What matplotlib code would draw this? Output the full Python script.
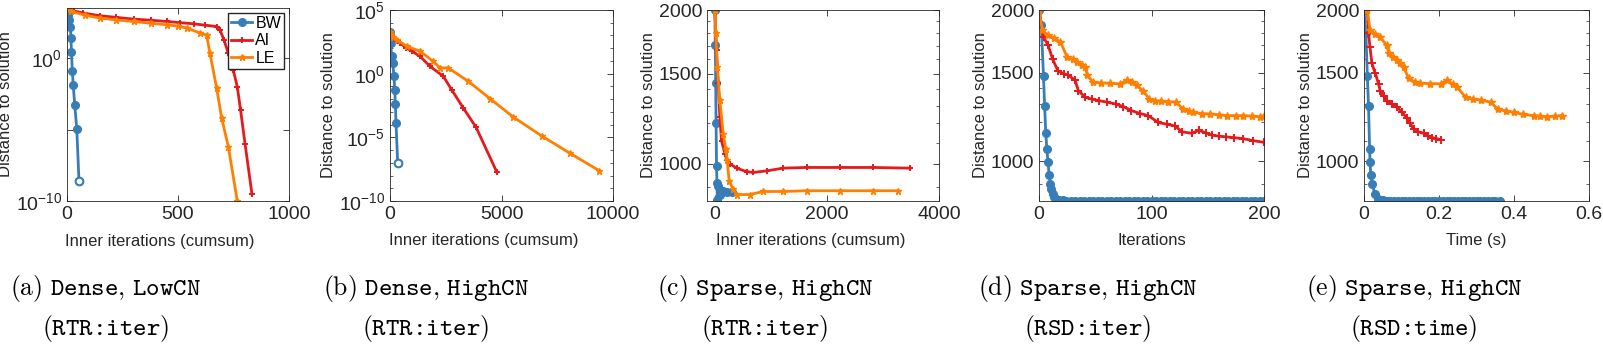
import numpy as np
import matplotlib
matplotlib.use('Agg')
import matplotlib.pyplot as plt
from matplotlib.ticker import FixedLocator, NullFormatter

plt.rcParams['font.family'] = ['Liberation Sans', 'DejaVu Sans']
plt.rcParams['mathtext.fontset'] = 'custom'
plt.rcParams['mathtext.rm'] = 'Liberation Sans'
plt.rcParams['mathtext.it'] = 'Liberation Sans:italic'
plt.rcParams['mathtext.bf'] = 'Liberation Sans:bold'

c_bw = '#377eb8'
c_ai = '#e41a1c'
c_le = '#ff7f00'
gray = '#262626'

# (a) Dense, LowCN  (RTR:iter)
a_bw_x = [0, 4, 10, 15, 18, 20, 24, 28, 35, 44, 54]
a_bw_y = [2700, 1070, 480, 160, 25, 2.5, 0.13, 0.0126, 5e-4, 1.1e-5, 2.5e-9]
a_ai_x = [0, 30, 73, 148, 220, 300, 380, 450, 510, 570, 620, 675, 689, 707, 727, 749, 767, 782, 802, 833]
a_ai_y = [2700, 2000, 1410, 910, 700, 530, 440, 360, 300, 247, 200, 160, 93, 18.6, 2.1, 0.14, 0.01, 2.2e-4, 1e-6, 3.2e-10]
a_le_x = [0, 20, 80, 148, 220, 300, 380, 450, 500, 541, 601, 629, 644, 674, 697, 727, 767]
a_le_y = [2700, 1820, 1000, 630, 470, 360, 270, 210, 170, 123, 55, 40, 2.1, 8e-3, 6e-5, 6e-7, 1e-10]

# (b) Dense, HighCN  (RTR:iter)
b_bw_x = [0, 5, 10, 20, 30, 75, 120, 180, 210, 240, 270, 345]
b_bw_y = [2000, 1200, 700, 400, 263, 23, 6.9, 0.62, 0.055, 4.4e-3, 1.3e-4, 9.3e-8]
b_ai_x = [0, 50, 150, 300, 448, 700, 1000, 1345, 1794, 2392, 2765, 3288, 3857, 4783]
b_ai_y = [2000, 1260, 710, 400, 263, 112, 56, 23, 3.8, 0.62, 0.055, 2.0e-3, 6.3e-5, 2.0e-8]
b_le_x = [0, 50, 150, 300, 748, 1345, 1943, 2242, 2616, 3513, 4484, 5530, 6801, 8072, 9387]
b_le_y = [2000, 1260, 790, 480, 141, 58, 9.3, 2.8, 2.8, 0.25, 0.011, 3.9e-4, 1.3e-5, 5.6e-7, 2.4e-8]

# (c) Sparse, HighCN  (RTR:iter)
c_bw_x = [0, 8, 15, 22, 30, 38, 45, 60, 90, 150, 220, 300]
c_bw_y = [2000, 1708, 1438, 1200, 988, 916, 849, 905, 870, 885, 880, 880]
c_ai_x = [0, 30, 60, 89, 119, 179, 220, 268, 387, 565, 685, 923, 1220, 1637, 2232, 2827, 3482]
c_ai_y = [2000, 1670, 1438, 1236, 1109, 1046, 1015, 1000, 980, 965, 961, 968, 980, 983, 983, 983, 980]
c_le_x = [0, 18, 42, 89, 149, 196, 220, 256, 327, 387, 625, 863, 1220, 1637, 2232, 2827, 3262]
c_le_y = [2000, 1801, 1549, 1333, 1145, 1066, 1015, 924, 891, 870, 870, 882, 882, 885, 885, 885, 885]

# (d) Sparse, HighCN  (RSD:iter)
d_bw_x = [0, 2, 4, 5, 6, 7, 8, 9, 10, 11, 12, 13, 15, 18, 21, 24, 28, 32, 36, 40, 44, 48, 52, 56, 60,
          64, 68, 72, 76, 80, 84, 88, 92, 96, 100, 104, 108, 112, 116, 120, 124, 128, 132, 136, 140,
          144, 148, 152, 156, 160, 164, 168, 172, 176, 180, 184, 188, 192, 196, 200]
d_bw_y = [2000, 1868, 1476, 1290, 1140, 1058, 996, 941, 903, 880, 862, 850, 842, 838, 836, 835, 834, 834,
          834, 834, 834, 834, 834, 834, 834, 834, 834, 834, 834, 834, 834, 834, 834, 834, 834, 834, 834,
          834, 834, 834, 834, 834, 834, 834, 834, 834, 834, 834, 834, 834, 834, 834, 834, 834, 834, 834,
          834, 834, 834, 834]
d_ai_x = [0, 4, 8, 12, 17, 22, 26, 32, 35, 41, 47, 53, 60, 68, 75, 82, 90, 97, 106, 114, 121, 127, 136, 142,
          148, 154, 160, 166, 173, 181, 190, 200]
d_ai_y = [2000, 1765, 1705, 1600, 1511, 1495, 1484, 1451, 1383, 1341, 1330, 1321, 1312, 1301, 1285, 1262,
          1245, 1233, 1195, 1185, 1176, 1145, 1137, 1153, 1140, 1127, 1122, 1119, 1115, 1110, 1100, 1091]
d_le_x = [0, 3, 8, 13, 19, 25, 30, 34, 38, 41, 43, 48, 55, 63, 72, 78, 83, 87, 92, 98, 103, 108, 115, 122,
          128, 133, 137, 145, 152, 160, 167, 175, 181, 189, 196, 200]
d_le_y = [2000, 1824, 1780, 1760, 1729, 1613, 1595, 1575, 1555, 1540, 1484, 1437, 1432, 1430, 1426, 1451,
          1440, 1416, 1383, 1332, 1321, 1318, 1315, 1311, 1271, 1262, 1251, 1245, 1242, 1238, 1233, 1233,
          1233, 1230, 1227, 1233]

# (e) Sparse, HighCN  (RSD:time)
e_bw_x = [0, 0.005, 0.009, 0.012, 0.015, 0.016, 0.018, 0.022, 0.029, 0.038, 0.045, 0.051, 0.06, 0.07,
          0.08, 0.09, 0.10, 0.11, 0.12, 0.13, 0.14, 0.15, 0.16, 0.17, 0.18, 0.19, 0.20, 0.21, 0.22, 0.23,
          0.24, 0.25, 0.26, 0.27, 0.28, 0.29, 0.30, 0.31, 0.32, 0.33, 0.34, 0.35, 0.363]
e_bw_y = [2000, 1797, 1476, 1290, 1058, 996, 941, 903, 862, 842, 838, 836, 835, 834, 834, 834, 834, 834,
          834, 834, 834, 834, 834, 834, 834, 834, 834, 834, 834, 834, 834, 834, 834, 834, 834, 834, 834,
          834, 834, 834, 834, 834, 834]
e_ai_x = [0.009, 0.012, 0.016, 0.021, 0.030, 0.039, 0.043, 0.052, 0.061, 0.075, 0.088, 0.100, 0.114,
          0.123, 0.132, 0.145, 0.159, 0.170, 0.182, 0.193, 0.204]
e_ai_y = [2000, 1797, 1688, 1566, 1497, 1426, 1383, 1350, 1321, 1300, 1282, 1255, 1222, 1190, 1160, 1145,
          1137, 1125, 1115, 1110, 1105]
e_le_x = [0.009, 0.016, 0.030, 0.043, 0.061, 0.066, 0.078, 0.088, 0.097, 0.106, 0.119, 0.135, 0.150,
          0.175, 0.204, 0.222, 0.236, 0.249, 0.271, 0.290, 0.311, 0.338, 0.356, 0.378, 0.400, 0.425, 0.453,
          0.470, 0.489, 0.510, 0.529]
e_le_y = [2000, 1824, 1790, 1765, 1702, 1640, 1610, 1589, 1570, 1540, 1462, 1440, 1430, 1428, 1426, 1451,
          1425, 1403, 1341, 1330, 1325, 1311, 1271, 1260, 1251, 1240, 1233, 1230, 1227, 1230, 1233]

xlabels = ['Inner iterations (cumsum)'] * 3 + ['Iterations', 'Time (s)']
captions = [
    (r'$\mathrm{(a)}\ $Dense$\mathrm{,}\ $LowCN', r'$\mathrm{(}$RTR:iter$\mathrm{)}$'),
    (r'$\mathrm{(b)}\ $Dense$\mathrm{,}\ $HighCN', r'$\mathrm{(}$RTR:iter$\mathrm{)}$'),
    (r'$\mathrm{(c)}\ $Sparse$\mathrm{,}\ $HighCN', r'$\mathrm{(}$RTR:iter$\mathrm{)}$'),
    (r'$\mathrm{(d)}\ $Sparse$\mathrm{,}\ $HighCN', r'$\mathrm{(}$RSD:iter$\mathrm{)}$'),
    (r'$\mathrm{(e)}\ $Sparse$\mathrm{,}\ $HighCN', r'$\mathrm{(}$RSD:time$\mathrm{)}$'),
]

W, H = 1603, 350
fig = plt.figure(figsize=(W / 100, H / 100), dpi=100)

# axes boxes in pixels: x0, x1, y_top, y_bottom
boxes = [(67, 289, 8, 201), (390, 613, 10, 201), (707, 939, 10, 201), (1039, 1264, 10, 201), (1364, 1589, 10, 201)]
cap_x = [106, 426, 765, 1088, 1414]
xlab_shift = [-18, -18, -12, 0, 0]  # pixels
mk_size = [4.5, 4.5, 4.5, 6, 6]

data = [
    (a_bw_x, a_bw_y, a_ai_x, a_ai_y, a_le_x, a_le_y),
    (b_bw_x, b_bw_y, b_ai_x, b_ai_y, b_le_x, b_le_y),
    (c_bw_x, c_bw_y, c_ai_x, c_ai_y, c_le_x, c_le_y),
    (d_bw_x, d_bw_y, d_ai_x, d_ai_y, d_le_x, d_le_y),
    (e_bw_x, e_bw_y, e_ai_x, e_ai_y, e_le_x, e_le_y),
]

axs = []
for i, (x0, x1, yt, yb) in enumerate(boxes):
    ax = fig.add_axes([x0 / W, 1 - yb / H, (x1 - x0) / W, (yb - yt) / H])
    axs.append(ax)
    bx, by, ax_x, ay, lx, ly = data[i]
    ax.plot(bx, by, '-o', color=c_bw, lw=2, ms=5.5, label='BW')
    ax.plot(ax_x, ay, '-+', color=c_ai, lw=2, ms=mk_size[i], mew=1.4, label='AI')
    ax.plot(lx, ly, '-*', color=c_le, lw=2, ms=mk_size[i], label='LE')
    if i < 2:
        # final BW iterate drawn hollow
        ax.plot(bx[-1:], by[-1:], 'o', color=c_bw, mfc='white', ms=5.5, mew=1.5)
    ax.set_yscale('log')
    ax.set_xlabel(xlabels[i], fontsize=12, color=gray)
    ax.xaxis.set_label_coords(0.5 + xlab_shift[i] / (x1 - x0), -0.17)
    ax.set_ylabel('Distance to solution', fontsize=12, color=gray, labelpad=2)
    ax.tick_params(which='both', direction='in', top=True, right=True, labelsize=14, colors=gray)
    ax.tick_params(which='major', length=4, width=0.6)
    ax.tick_params(which='minor', length=2.5, width=0.5)
    for s in ax.spines.values():
        s.set_color(gray)
        s.set_linewidth(0.6)
    t1, t2 = captions[i]
    fig.text(cap_x[i] / W, 1 - 288 / H, t1, ha='center', va='center', fontsize=18.5,
             family='cmtt10', math_fontfamily='cm')
    fig.text(cap_x[i] / W, 1 - 329 / H, t2, ha='center', va='center', fontsize=18.5,
             family='cmtt10', math_fontfamily='cm')

# (a)
ax = axs[0]
ax.set_xlim(0, 1000)
ax.set_ylim(1e-10, 10 ** 3.5)
ax.set_xticks([0, 500, 1000])
ax.yaxis.set_major_locator(FixedLocator([1e-10, 1e-5, 1e0]))
ax.set_yticklabels(['$10^{-10}$', '', '$10^{0}$'])
ax.yaxis.set_minor_locator(FixedLocator([]))
ax.legend(loc='upper right', fontsize=11.5, handlelength=1.3, borderpad=0.2, labelspacing=0.15,
          handletextpad=0.2, borderaxespad=0.3, fancybox=False, edgecolor=gray, framealpha=1)

# (b)
ax = axs[1]
ax.set_xlim(0, 10000)
ax.set_ylim(1e-10, 1e5)
ax.set_xticks([0, 5000, 10000])
ax.yaxis.set_major_locator(FixedLocator([1e-10, 1e-5, 1e0, 1e5]))
ax.set_yticklabels(['$10^{-10}$', '$10^{-5}$', '$10^{0}$', '$10^{5}$'])
ax.yaxis.set_minor_locator(FixedLocator([10.0 ** k for k in range(-10, 6)]))
ax.yaxis.set_minor_formatter(NullFormatter())

# (c), (d), (e)
minor = [900, 1100, 1200, 1300, 1400, 1600, 1700, 1800, 1900]
for j, (xl, xt) in zip([2, 3, 4], [((-140, 4000), [0, 2000, 4000]), ((0, 200), [0, 100, 200]),
                                   ((0, 0.6), [0, 0.2, 0.4, 0.6])]):
    ax = axs[j]
    ax.set_xlim(*xl)
    ax.set_xticks(xt)
    ax.set_xticklabels([f'{v:g}' for v in xt])
    ax.yaxis.set_major_locator(FixedLocator([1000, 1500, 2000]))
    ax.set_yticklabels(['1000', '1500', '2000'])
    ax.yaxis.set_minor_locator(FixedLocator(minor))
    ax.yaxis.set_minor_formatter(NullFormatter())
axs[2].set_ylim(845, 2000)
axs[3].set_ylim(834, 2000)
axs[4].set_ylim(834, 2000)

fig.savefig('out.png', dpi=100)
